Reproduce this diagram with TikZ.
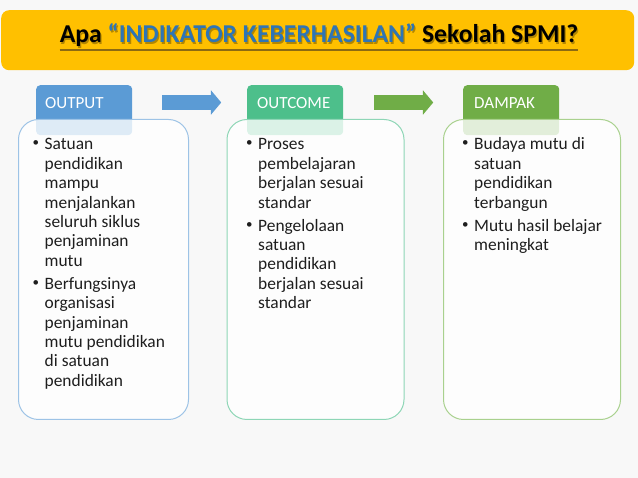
\documentclass[tikz,border=0pt]{standalone}
\usepackage{fontspec}
\setmainfont{Carlito}
\usetikzlibrary{shapes.arrows}
\definecolor{bgc}{HTML}{F8F8F8}
\definecolor{barY}{HTML}{FFC000}
\definecolor{titleblue}{HTML}{2E75B6}
\definecolor{ulc}{HTML}{8C6A12}
\definecolor{tabA}{HTML}{5B9BD5}
\definecolor{tabB}{HTML}{4DBF8B}
\definecolor{tabC}{HTML}{70AD47}
\definecolor{edgeA}{HTML}{9DC3E6}
\definecolor{edgeB}{HTML}{8ED6B6}
\definecolor{edgeC}{HTML}{A9D18E}
\definecolor{txt}{HTML}{1E1E1E}
\newcommand{\bul}{\raisebox{3pt}{\fontsize{13}{13}\selectfont •}}
\begin{document}
\begin{tikzpicture}[x=1pt,y=-1pt,
  tabbox/.style={rounded corners=4pt, minimum width=96pt, minimum height=50pt, anchor=north west, inner sep=0pt},
  tabtext/.style={text=white, font=\fontsize{17}{20}\selectfont, anchor=base west, inner sep=0pt},
  card/.style={fill=white, fill opacity=0.8, line width=1pt, rounded corners=20pt, minimum height=300pt, anchor=north west, inner sep=0pt},
  body/.style={text=txt, font=\fontsize{17.4}{19.4}\selectfont, anchor=base west, inner sep=0pt},
  blockarrow/.style={single arrow, minimum height=59pt, minimum width=24pt, inner xsep=0pt, inner ysep=7.2pt, single arrow head extend=4.8pt, single arrow tip angle=100, anchor=west, draw=none}
]
\fill[bgc] (0,0) rectangle (638,478);
\useasboundingbox (0,0) rectangle (638,478);

% title bar
\node[fill=barY, rounded corners=8pt, minimum width=633pt, minimum height=60pt, anchor=north west, inner sep=0pt] (bar) at (1,10) {};
\node[anchor=base, inner sep=0pt, text=black, opacity=0.3, font=\fontsize{25.7}{28}\selectfont\bfseries] (ttlshadow) at (320.2,44.2) {Apa “INDIKATOR KEBERHASILAN” Sekolah SPMI?};
\node[anchor=base, inner sep=0pt, font=\fontsize{25.7}{28}\selectfont\bfseries] (ttl) at (319,43) {Apa \textcolor{titleblue}{“INDIKATOR KEBERHASILAN”} Sekolah SPMI?};
\draw[ulc, line width=1.6pt] ([yshift=-7pt]ttl.base west) -- ([yshift=-7pt]ttl.base east);

% tabs
\node[tabbox, fill=tabA] (t1) at (36,85) {};
\node[tabbox, fill=tabB] (t2) at (247,85) {};
\node[tabbox, fill=tabC] (t3) at (463,85) {};

% cards
\node[card, draw=edgeA, minimum width=170pt] (b1) at (18,119) {};
\node[card, draw=edgeB, minimum width=177pt] (b2) at (226.5,119) {};
\node[card, draw=edgeC, minimum width=177pt] (b3) at (443,119) {};

% tab labels
\node[tabtext] (l1) at (45,109) {OUTPUT};
\node[tabtext] (l2) at (257,109) {OUTCOME};
\node[tabtext] (l3) at (474,109) {DAMPAK};

% arrows
\node[blockarrow, fill=tabA] (a1) at (162,102.5) {};
\node[blockarrow, fill=tabC] (a2) at (374,102.5) {};

% texts
\node[body] (c1) at (32.5,150) {\begin{tabular}[t]{@{}p{12pt}@{}l@{}}
\bul & Satuan\\
  & pendidikan\\
  & mampu\\
  & menjalankan\\
  & seluruh siklus\\
  & penjaminan\\
  & mutu\\[3.6pt]
\bul & Berfungsinya\\
  & organisasi\\
  & penjaminan\\
  & mutu pendidikan\\
  & di satuan\\
  & pendidikan
\end{tabular}};
\node[body] (c2) at (246,150) {\begin{tabular}[t]{@{}p{12pt}@{}l@{}}
\bul & Proses\\
  & pembelajaran\\
  & berjalan sesuai\\
  & standar\\[3.6pt]
\bul & Pengelolaan\\
  & satuan\\
  & pendidikan\\
  & berjalan sesuai\\
  & standar
\end{tabular}};
\node[body] (c3) at (462,150) {\begin{tabular}[t]{@{}p{12pt}@{}l@{}}
\bul & Budaya mutu di\\
  & satuan\\
  & pendidikan\\
  & terbangun\\[3.6pt]
\bul & Mutu hasil belajar\\
  & meningkat
\end{tabular}};
\end{tikzpicture}
\end{document}
